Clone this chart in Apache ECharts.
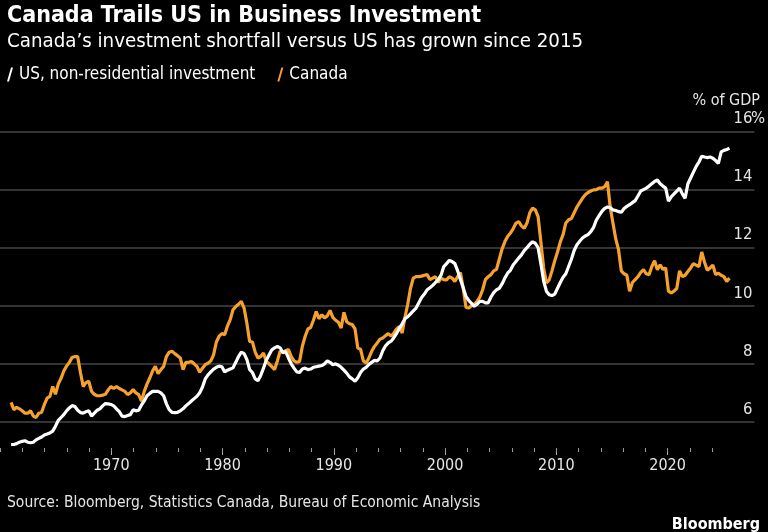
<!DOCTYPE html>
<html>
<head>
<meta charset="utf-8">
<script src="https://cdn.jsdelivr.net/npm/echarts@6/dist/echarts.min.js"></script>
<style>
  html, body { margin: 0; padding: 0; background: #000; }
  #chart { width: 768px; height: 532px; }
</style>
</head>
<body>
<div id="chart"></div>
<script>
// quarterly, starting 1961 Q1
var startYear = 1961;
var usInvest = [
  5.22, 5.22, 5.25, 5.30,  5.33, 5.35, 5.30, 5.28,  5.30, 5.38, 5.43, 5.48,  5.55, 5.58, 5.62, 5.68,
  5.85, 6.05, 6.15, 6.25,  6.38, 6.48, 6.56, 6.53,  6.40, 6.32, 6.30, 6.35,  6.38, 6.20, 6.30, 6.40,
  6.45, 6.55, 6.63, 6.62,  6.60, 6.55, 6.45, 6.35,  6.20, 6.18, 6.22, 6.25,  6.42, 6.38, 6.40, 6.58,
  6.72, 6.90, 6.98, 7.05,  7.05, 7.05, 7.00, 6.90,  6.62, 6.42, 6.33, 6.32,  6.33, 6.38, 6.45, 6.55,
  6.63, 6.72, 6.80, 6.88,  7.00, 7.20, 7.48, 7.62,  7.72, 7.82, 7.88, 7.92,  7.90, 7.72, 7.78, 7.82,
  7.86, 8.05, 8.25, 8.40,  8.35, 8.15, 7.80, 7.70,  7.48, 7.42, 7.60, 7.85,  8.12, 8.30, 8.48, 8.55,
  8.60, 8.55, 8.38, 8.42,  8.20, 8.00, 7.85, 7.72,  7.70, 7.82, 7.85, 7.80,  7.82, 7.88, 7.90, 7.92,
  7.94, 8.00, 8.10, 8.05,  7.97, 8.00, 7.95, 7.88,  7.78, 7.68, 7.55, 7.48,  7.40, 7.52, 7.70, 7.82,
  7.88, 7.98, 8.05, 8.12,  8.10, 8.20, 8.45, 8.62,  8.72, 8.78, 8.90, 9.05,  9.22, 9.38, 9.55, 9.62,
  9.72, 9.82, 9.92, 10.10, 10.28, 10.40, 10.55, 10.62, 10.70, 10.80, 10.90, 11.05, 11.35, 11.45, 11.56, 11.52,
  11.45, 11.20, 10.90, 10.62, 10.32, 10.18, 10.08, 9.98, 10.05, 10.15, 10.15, 10.10, 10.10, 10.30, 10.45, 10.55,
  10.60, 10.75, 10.95, 11.12, 11.22, 11.40, 11.52, 11.64, 11.75, 11.90, 12.00, 12.12, 12.20, 12.15, 12.00, 11.45,
  10.85, 10.50, 10.38, 10.35, 10.40, 10.60, 10.80, 10.98, 11.10, 11.35, 11.60, 11.90, 12.10, 12.22, 12.33, 12.40,
  12.45, 12.55, 12.70, 12.95, 13.10, 13.25, 13.35, 13.40, 13.38, 13.30, 13.28, 13.24, 13.22, 13.35, 13.42, 13.48,
  13.55, 13.62, 13.78, 13.95, 14.00, 14.05, 14.12, 14.20, 14.28, 14.33, 14.20, 14.12, 14.05, 13.60, 13.75, 13.85,
  13.95, 14.05, 13.85, 13.70, 14.20, 14.40, 14.60, 14.80, 14.95, 15.15, 15.12, 15.10, 15.12, 15.08, 15.00, 14.90,
  15.30, 15.35, 15.38, 15.42
];
var canadaInvest = [
  6.67, 6.42, 6.50, 6.45,  6.38, 6.30, 6.30, 6.38,  6.20, 6.15, 6.30, 6.33,  6.60, 6.82, 6.88, 7.22,
  6.95, 7.30, 7.50, 7.75,  7.92, 8.05, 8.22, 8.25,  8.25, 7.70, 7.22, 7.35,  7.40, 7.05, 6.95, 6.90,
  6.90, 6.92, 6.95, 7.10,  7.22, 7.15, 7.22, 7.15,  7.10, 7.05, 6.94, 7.00,  7.11, 7.00, 6.94, 6.71,
  7.05, 7.30, 7.51, 7.75,  7.91, 7.66, 7.80, 7.91,  8.25, 8.40, 8.43, 8.35,  8.28, 8.20, 7.80, 8.05,
  8.05, 8.08, 8.00, 7.91,  7.71, 7.85, 7.97, 8.02,  8.10, 8.31, 8.75, 8.95,  9.04, 9.00, 9.30, 9.52,
  9.86, 9.97, 10.05, 10.15, 9.92, 9.40, 8.77, 8.75, 8.40, 8.20, 8.25, 8.37,  8.08, 8.00, 7.90, 7.80,
  8.10, 8.43, 8.40, 8.45,  8.49, 8.25, 8.10, 8.05,  8.08, 8.60, 8.94, 9.20,  9.25, 9.50, 9.80, 9.55,
  9.69, 9.58, 9.65, 9.84,  9.60, 9.50, 9.43, 9.23,  9.77, 9.45, 9.38, 9.35,  9.20, 8.54, 8.50, 8.10,
  8.03, 8.20, 8.43, 8.60,  8.72, 8.85, 8.89, 8.97,  9.04, 8.95, 9.06, 9.20,  9.29, 9.06, 9.60, 10.05,
  10.60, 10.95, 11.00, 11.00, 11.02, 11.05, 11.07, 10.90, 10.95, 11.00, 10.80, 10.95, 10.90, 10.89, 11.00, 10.95,
  10.84, 11.00, 11.14, 10.60, 9.95, 9.92, 10.00, 10.05, 10.15, 10.30, 10.55, 10.90, 11.00, 11.07, 11.20, 11.25,
  11.60, 11.95, 12.20, 12.38, 12.50, 12.65, 12.84, 12.90, 12.75, 12.67, 12.85, 13.20, 13.36, 13.30, 13.07, 12.20,
  11.30, 10.78, 10.89, 11.20, 11.55, 11.85, 12.20, 12.45, 12.85, 12.96, 13.00, 13.20, 13.40, 13.55, 13.70, 13.82,
  13.90, 13.95, 13.99, 14.00, 14.05, 14.05, 14.10, 14.27, 13.40, 12.84, 12.30, 11.93, 11.20, 11.10, 11.05, 10.50,
  10.80, 10.90, 11.00, 11.15, 11.24, 11.10, 11.07, 11.35, 11.55, 11.24, 11.41, 11.25, 11.30, 10.50, 10.44, 10.50,
  10.60, 11.20, 11.00, 11.05, 11.18, 11.30, 11.45, 11.40, 11.35, 11.85, 11.50, 11.22, 11.30, 11.40, 11.07, 11.12,
  11.05, 11.00, 10.84, 10.95
];
var yTicks = [6, 8, 10, 12, 14, 16];

function toPairs (vals) {
  return vals.map(function (v, i) { return [startYear + i / 4, v]; });
}

var FONT = '"Liberation Sans Narrow", "DejaVu Sans Condensed", "Liberation Sans", sans-serif';
var orange = '#f6a02d';

// px per year of the plot, so the tick grids line up with the data grid
var pxYear = 770 / 69;
var gridTop = 131.5, gridBottom = 84;

var chart = echarts.init(document.getElementById('chart'));
var option = {
  backgroundColor: '#000',
  animation: false,
  textStyle: { fontFamily: FONT },
  title: [
    {
      text: 'Canada Trails US in Business Investment',
      left: 2, top: 0,
      textStyle: { color: '#fff', fontSize: 23, fontWeight: 'bold', fontFamily: FONT }
    },
    {
      text: 'Canada\u2019s investment shortfall versus US has grown since 2015',
      left: 2, top: 27,
      textStyle: { color: '#fff', fontSize: 20.3, fontWeight: 'normal', fontFamily: FONT }
    },
    {
      text: '% of GDP',
      right: 3, top: 88,
      textStyle: { color: '#e6e6e6', fontSize: 16, fontWeight: 'normal', fontFamily: FONT }
    },
    {
      text: 'Source: Bloomberg, Statistics Canada, Bureau of Economic Analysis',
      left: 2, top: 490,
      textStyle: { color: '#e6e6e6', fontSize: 15.5, fontWeight: 'normal', fontFamily: FONT }
    },
    {
      text: 'Bloomberg',
      right: 3, top: 512,
      textStyle: { color: '#fff', fontSize: 16, fontWeight: 'bold', fontFamily: FONT }
    }
  ],
  legend: {
    left: 2, top: 61,
    itemWidth: 8, itemHeight: 14, itemGap: 22,
    textStyle: { color: '#fff', fontSize: 17, fontFamily: FONT },
    data: [
      { name: 'US, non-residential investment', icon: 'path://M4,0 L6,0 L2,14 L0,14 Z' },
      { name: 'Canada', icon: 'path://M4,0 L6,0 L2,14 L0,14 Z' }
    ]
  },
  grid: [
    // data grid: 1960 .. 2028
    { left: -2, right: 11, top: gridTop, bottom: gridBottom },
    // decade ticks + labels: 1960 .. 2020
    { left: -2, width: pxYear * 60, top: gridTop, bottom: gridBottom },
    // two-year ticks: 1960 .. 2024
    { left: -2, width: pxYear * 64, top: gridTop, bottom: gridBottom }
  ],
  xAxis: [
    { gridIndex: 0, type: 'value', min: 1960, max: 2028, show: false },
    {
      gridIndex: 1, type: 'value', min: 1960, max: 2020, interval: 10,
      axisLine: { show: true, lineStyle: { color: 'rgba(0,0,0,0)' } },
      axisTick: { show: true, length: 7, lineStyle: { color: '#aaa', width: 1 } },
      axisLabel: {
        color: '#e6e6e6', fontSize: 16, margin: 10, fontFamily: FONT, showMinLabel: false,
        formatter: function (v) { return String(v); }
      },
      splitLine: { show: false }
    },
    {
      gridIndex: 2, type: 'value', min: 1960, max: 2024, interval: 2,
      axisLine: { show: true, lineStyle: { color: 'rgba(0,0,0,0)' } },
      axisTick: { show: true, length: 4, lineStyle: { color: '#999', width: 1 } },
      axisLabel: { show: false },
      splitLine: { show: false }
    }
  ],
  yAxis: [
    {
      gridIndex: 0, type: 'value', position: 'right', min: 5.1, max: 16,
      axisLine: { show: false },
      axisTick: { show: false, customValues: yTicks },
      axisLabel: {
        customValues: yTicks,
        inside: true, margin: -9, verticalAlign: 'bottom', padding: [0, 0, 4, 0],
        formatter: function (v) {
          return '{n|' + v + '}{p|' + (v === 16 ? '%' : '') + '}';
        },
        rich: {
          n: { color: '#e6e6e6', fontSize: 16.5, fontFamily: FONT, align: 'right' },
          p: { color: '#e6e6e6', fontSize: 16.5, fontFamily: FONT, width: 11, align: 'left' }
        }
      },
      splitLine: { show: true, lineStyle: { color: '#464646', width: 1.5 } }
    },
    { gridIndex: 1, type: 'value', show: false, splitLine: { show: false } },
    { gridIndex: 2, type: 'value', show: false, splitLine: { show: false } }
  ],
  series: [
    {
      name: 'US, non-residential investment', type: 'line', xAxisIndex: 0, yAxisIndex: 0,
      data: toPairs(usInvest), showSymbol: false, symbol: 'none',
      lineStyle: { color: '#fff', width: 3.2 }, itemStyle: { color: '#fff' }, z: 3
    },
    {
      name: 'Canada', type: 'line', xAxisIndex: 0, yAxisIndex: 0,
      data: toPairs(canadaInvest), showSymbol: false, symbol: 'none',
      lineStyle: { color: orange, width: 3.2 }, itemStyle: { color: orange }, z: 2
    }
  ]
};
chart.setOption(option);
</script>
</body>
</html>
